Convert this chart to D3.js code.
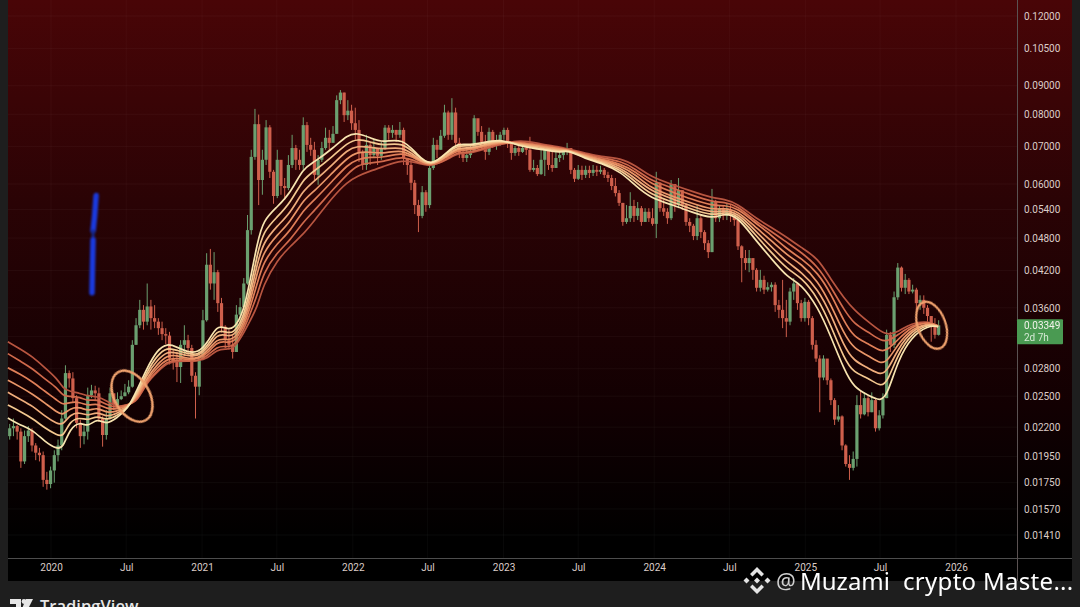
<!DOCTYPE html>
<html>
  <head>
    <meta charset="utf-8">
    <title>ribbon chart</title>
    <style>
      html, body {
        padding: 0;
        margin: 0;
        background-color: #1e1e1e;
      }
      svg {
        display: block;
      }
      .axis text {
        font-family: Roboto, sans-serif;
        font-size: 10px;
        fill: #dccdc8;
      }
    </style>
  </head>
<body>
<svg width="1080" height="607"></svg>

<script src="https://cdnjs.cloudflare.com/ajax/libs/d3/7.8.5/d3.min.js"></script>
<script>

// candles, 8 per line
const firstBar = "2019-09-23";
const barStepDays = 9;
const firstOpen = 0.0212;

const closes = [
  .0219,.0221,.0216,.0191,.0212,.0217,.0204,.0198,
  .0196,.0177,.0174,.0184,.0196,.0204,.0228,.0275,
  .0269,.0248,.0224,.0212,.0216,.0251,.0256,.0253,
  .0228,.0213,.0228,.0253,.0241,.0247,.0250,.0254,
  .0260,.0309,.0335,.0357,.0340,.0362,.0345,.0340,
  .0331,.0323,.0321,.0292,.0288,.0282,.0309,.0315,
  .0305,.0272,.0260,.0292,.0342,.0430,.0398,.0417,
  .0367,.0333,.0315,.0309,.0300,.0350,.0361,.0398,
  .0496,.0671,.0768,.0610,.0663,.0758,.0631,.0571,
  .0663,.0595,.0590,.0649,.0696,.0663,.0649,.0765,
  .0705,.0691,.0623,.0663,.0696,.0726,.0711,.0738,
  .0848,.0875,.0797,.0812,.0771,.0750,.0685,.0649,
  .0705,.0676,.0696,.0674,.0696,.0757,.0741,.0750,
  .0735,.0750,.0668,.0649,.0603,.0550,.0526,.0580,
  .0550,.0641,.0705,.0691,.0732,.0806,.0735,.0806,
  .0711,.0682,.0668,.0676,.0685,.0787,.0744,.0714,
  .0685,.0744,.0711,.0714,.0735,.0750,.0714,.0682,
  .0696,.0685,.0696,.0691,.0636,.0641,.0625,.0663,
  .0696,.0649,.0641,.0668,.0676,.0685,.0696,.0636,
  .0613,.0636,.0623,.0636,.0628,.0636,.0631,.0636,
  .0623,.0615,.0595,.0578,.0555,.0513,.0521,.0548,
  .0526,.0543,.0513,.0535,.0521,.0509,.0603,.0543,
  .0535,.0521,.0600,.0550,.0585,.0550,.0513,.0505,
  .0484,.0521,.0492,.0470,.0453,.0557,.0521,.0543,
  .0526,.0539,.0526,.0517,.0464,.0442,.0433,.0442,
  .0421,.0391,.0404,.0388,.0392,.0396,.0364,.0357,
  .0345,.0340,.0385,.0398,.0367,.0345,.0369,.0345,
  .0309,.0292,.0270,.0292,.0267,.0246,.0227,.0230,
  .0204,.0189,.0186,.0193,.0241,.0232,.0248,.0234,
  .0246,.0219,.0231,.0248,.0322,.0309,.0376,.0425,
  .0391,.0404,.0385,.0388,.0367,.0372,.0360,.0348,
  .0333,.0322,.03349
];

const highs = [
  .0223,.0228,.0222,.0219,.0217,.0221,.0219,.0206,
  .0202,.0199,.0183,.0187,.0200,.0209,.0236,.0284,
  .0278,.0276,.0251,.0227,.0222,.0259,.0262,.0261,
  .0259,.0230,.0236,.0259,.0252,.0254,.0256,.0263,
  .0267,.0315,.0345,.0372,.0364,.0398,.0372,.0364,
  .0345,.0340,.0331,.0326,.0303,.0300,.0315,.0335,
  .0322,.0309,.0276,.0303,.0357,.0451,.0459,.0453,
  .0421,.0375,.0335,.0329,.0322,.0364,.0375,.0407,
  .0528,.0691,.0818,.0799,.0691,.0781,.0765,.0636,
  .0691,.0631,.0615,.0676,.0735,.0705,.0691,.0790,
  .0775,.0726,.0714,.0676,.0714,.0757,.0750,.0762,
  .0865,.0884,.0875,.0848,.0832,.0822,.0781,.0691,
  .0735,.0714,.0720,.0696,.0714,.0765,.0765,.0765,
  .0750,.0775,.0757,.0668,.0663,.0610,.0562,.0595,
  .0585,.0657,.0726,.0720,.0750,.0832,.0812,.0855,
  .0822,.0726,.0696,.0696,.0705,.0797,.0781,.0762,
  .0735,.0757,.0750,.0735,.0744,.0757,.0757,.0714,
  .0702,.0702,.0702,.0702,.0729,.0663,.0649,.0691,
  .0702,.0691,.0685,.0685,.0691,.0696,.0711,.0691,
  .0641,.0649,.0647,.0647,.0647,.0649,.0647,.0647,
  .0641,.0631,.0623,.0615,.0585,.0555,.0550,.0580,
  .0562,.0557,.0548,.0543,.0543,.0543,.0631,.0605,
  .0562,.0543,.0610,.0600,.0615,.0585,.0555,.0521,
  .0509,.0550,.0528,.0496,.0476,.0588,.0562,.0550,
  .0550,.0553,.0550,.0535,.0521,.0466,.0457,.0457,
  .0435,.0424,.0421,.0411,.0400,.0400,.0400,.0372,
  .0404,.0372,.0391,.0407,.0398,.0372,.0375,.0372,
  .0348,.0315,.0296,.0296,.0288,.0269,.0248,.0241,
  .0231,.0205,.0196,.0199,.0251,.0256,.0254,.0251,
  .0254,.0248,.0236,.0253,.0329,.0326,.0385,.0433,
  .0427,.0414,.0407,.0396,.0391,.0379,.0379,.0364,
  .0348,.0345,.0342
];

const lows = [
  .0209,.0212,.0209,.0186,.0189,.0207,.0199,.0192,
  .0191,.0172,.0170,.0171,.0175,.0191,.0200,.0227,
  .0259,.0244,.0219,.0202,.0205,.0209,.0248,.0246,
  .0225,.0203,.0209,.0227,.0236,.0242,.0246,.0250,
  .0252,.0259,.0309,.0331,.0329,.0335,.0329,.0331,
  .0322,.0315,.0310,.0285,.0279,.0265,.0264,.0295,
  .0296,.0265,.0228,.0251,.0290,.0340,.0388,.0372,
  .0354,.0325,.0305,.0303,.0292,.0300,.0329,.0357,
  .0396,.0487,.0663,.0550,.0574,.0649,.0615,.0553,
  .0566,.0574,.0562,.0585,.0641,.0636,.0636,.0636,
  .0685,.0674,.0610,.0598,.0657,.0691,.0691,.0720,
  .0738,.0834,.0775,.0781,.0750,.0720,.0657,.0636,
  .0636,.0649,.0668,.0649,.0663,.0691,.0720,.0726,
  .0714,.0726,.0649,.0623,.0585,.0530,.0492,.0521,
  .0535,.0543,.0636,.0668,.0691,.0726,.0720,.0720,
  .0696,.0668,.0657,.0657,.0668,.0691,.0732,.0691,
  .0663,.0676,.0696,.0691,.0702,.0720,.0696,.0663,
  .0674,.0674,.0682,.0676,.0631,.0631,.0620,.0623,
  .0620,.0636,.0631,.0649,.0657,.0663,.0676,.0625,
  .0605,.0610,.0610,.0615,.0615,.0620,.0620,.0625,
  .0615,.0605,.0585,.0570,.0548,.0505,.0509,.0513,
  .0513,.0517,.0505,.0521,.0513,.0505,.0480,.0535,
  .0526,.0509,.0517,.0535,.0543,.0539,.0505,.0492,
  .0476,.0476,.0480,.0457,.0442,.0453,.0513,.0513,
  .0517,.0517,.0513,.0505,.0457,.0400,.0421,.0417,
  .0404,.0385,.0385,.0381,.0385,.0385,.0354,.0345,
  .0331,.0319,.0335,.0372,.0357,.0340,.0340,.0335,
  .0303,.0288,.0234,.0267,.0262,.0241,.0222,.0225,
  .0200,.0187,.0177,.0184,.0187,.0228,.0231,.0230,
  .0234,.0216,.0217,.0228,.0248,.0300,.0305,.0372,
  .0385,.0381,.0381,.0382,.0357,.0357,.0351,.0340,
  .0313,.0317,.0321
];

// ribbon of 7 moving averages, read at these dates (decimal years), 10 per line
const ribbonYears = [
  2019.714,2019.794,2019.880,2019.960,2020.040,2020.080,2020.126,2020.193,2020.246,2020.305,
  2020.372,2020.438,2020.505,2020.571,2020.637,2020.704,2020.770,2020.837,2020.903,2020.976,
  2021.036,2021.102,2021.155,2021.209,2021.275,2021.321,2021.368,2021.408,2021.501,2021.587,
  2021.673,2021.740,2021.873,2021.965,2022.032,2022.118,2022.198,2022.331,2022.430,2022.517,
  2022.629,2022.696,2022.782,2022.981,2023.114,2023.247,2023.380,2023.426,2023.546,2023.645,
  2023.778,2023.878,2023.977,2024.124,2024.243,2024.389,2024.462,2024.555,2024.661,2024.774,
  2024.887,2024.973,2025.086,2025.173,2025.259,2025.325,2025.418,2025.505,2025.551,2025.618,
  2025.704,2025.817,2025.883
];

const ribbon1 = [
  .02285,.0222,.02175,.0207,.0201,.0202,.0219,.0225,.0220,.02285,
  .0222,.0229,.02362,.02565,.0281,.03025,.0311,.0306,.0300,.0299,
  .0311,.03354,.0331,.03286,.0352,.04039,.04705,.05173,.0546,.0578,
  .0641,.0655,.0696,.0735,.0741,.0726,.0711,.0726,.0676,.0644,
  .0685,.0711,.0702,.0726,.0699,.0693,.0682,.0691,.0665,.0655,
  .0631,.0595,.0566,.0550,.0535,.0519,.0532,.0524,.0480,.0442,
  .0407,.0398,.0361,.0319,.0279,.0259,.0251,.0244,.0254,.0290,
  .0319,.0335,.0333
];
const ribbon2 = [
  .0241,.0235,.0228,.0219,.0213,.0211,.0226,.0229,.0226,.0231,
  .0226,.0231,.0237,.0253,.0277,.0296,.0306,.0302,.0298,.0296,
  .0307,.0329,.0326,.0323,.0345,.0389,.0449,.0494,.0524,.0555,
  .0613,.0631,.0674,.0711,.0723,.0714,.0702,.0714,.0674,.0644,
  .0682,.0705,.0699,.0723,.0702,.0696,.0685,.0691,.0668,.0657,
  .0636,.0605,.0574,.0557,.0541,.0526,.0535,.0528,.0490,.0453,
  .0421,.0409,.0375,.0334,.0292,.0275,.0270,.0259,.0267,.0298,
  .0323,.0337,.0333
];
const ribbon3 = [
  .0254,.0247,.0240,.0230,.0223,.0222,.0232,.0234,.0230,.0235,
  .0229,.0233,.0238,.0251,.0274,.0290,.0301,.0299,.0295,.0295,
  .0304,.0323,.0322,.0319,.0340,.0379,.0432,.0472,.0505,.0532,
  .0585,.0605,.0652,.0691,.0702,.0699,.0691,.0702,.0668,.0644,
  .0676,.0699,.0693,.0720,.0705,.0699,.0688,.0691,.0671,.0660,
  .0641,.0613,.0583,.0564,.0548,.0532,.0539,.0532,.0498,.0464,
  .0433,.0418,.0389,.0350,.0307,.0289,.0281,.0272,.0279,.0304,
  .0327,.0338,.0333
];
const ribbon4 = [
  .0267,.0260,.0252,.0243,.0234,.0231,.0238,.0239,.0235,.0239,
  .0233,.0235,.0239,.0249,.0270,.0285,.0296,.0296,.0292,.0292,
  .0301,.0317,.0316,.0315,.0335,.0370,.0416,.0453,.0487,.0513,
  .0562,.0580,.0631,.0668,.0685,.0685,.0679,.0693,.0665,.0644,
  .0674,.0696,.0691,.0717,.0708,.0702,.0691,.0691,.0674,.0663,
  .0647,.0623,.0590,.0570,.0555,.0539,.0543,.0537,.0505,.0476,
  .0446,.0432,.0402,.0364,.0323,.0304,.0296,.0285,.0290,.0310,
  .0330,.0338,.0334
];
const ribbon5 = [
  .0281,.0274,.0265,.0255,.0246,.0241,.0244,.0244,.0240,.0243,
  .0237,.0237,.0240,.0247,.0268,.0281,.0292,.0292,.0291,.0291,
  .0298,.0313,.0313,.0311,.0331,.0361,.0398,.0435,.0470,.0494,
  .0539,.0559,.0610,.0649,.0665,.0671,.0668,.0685,.0663,.0644,
  .0671,.0691,.0688,.0714,.0711,.0702,.0693,.0691,.0676,.0665,
  .0652,.0631,.0600,.0580,.0564,.0548,.0550,.0543,.0513,.0487,
  .0457,.0442,.0416,.0381,.0340,.0319,.0311,.0300,.0303,.0316,
  .0333,.0340,.0334
];
const ribbon6 = [
  .0298,.0289,.0280,.0268,.0259,.0250,.0250,.0249,.0245,.0247,
  .0241,.0238,.0241,.0245,.0266,.0277,.0289,.0290,.0289,.0289,
  .0295,.0307,.0307,.0306,.0327,.0352,.0379,.0416,.0453,.0476,
  .0513,.0535,.0588,.0625,.0649,.0655,.0657,.0674,.0657,.0644,
  .0665,.0685,.0682,.0711,.0714,.0705,.0696,.0691,.0679,.0668,
  .0660,.0638,.0608,.0590,.0574,.0557,.0557,.0548,.0517,.0494,
  .0470,.0453,.0427,.0392,.0357,.0337,.0326,.0314,.0314,.0322,
  .0335,.0340,.0334
];
const ribbon7 = [
  .0313,.0304,.0294,.0281,.0269,.0258,.0255,.0253,.0250,.0250,
  .0245,.0239,.0241,.0244,.0265,.0276,.0287,.0289,.0289,.0289,
  .0292,.0303,.0304,.0303,.0323,.0342,.0361,.0396,.0439,.0464,
  .0488,.0513,.0571,.0605,.0620,.0633,.0644,.0663,.0655,.0644,
  .0663,.0682,.0679,.0708,.0720,.0708,.0699,.0693,.0682,.0671,
  .0668,.0647,.0618,.0598,.0583,.0566,.0564,.0553,.0524,.0502,
  .0480,.0462,.0442,.0404,.0375,.0357,.0340,.0326,.0322,.0326,
  .0338,.0341,.0334
];
const ribbons = [ribbon7, ribbon6, ribbon5, ribbon4, ribbon3, ribbon2, ribbon1];
const ribbonColors = ["#b85540", "#d06a4c", "#e07f58", "#ea9668", "#f0ad7c", "#f4c890", "#f8e4b0"];

// axis labels
const priceTicks = [.12, .105, .09, .08, .07, .06, .054, .048, .042, .036, .028, .025, .022, .0195, .0175, .0157, .0141];
const timeTicks = ["2020-01-01", "2020-07-01", "2021-01-01", "2021-07-01", "2022-01-01", "2022-07-01", "2023-01-01", "2023-07-01", "2024-01-01", "2024-07-01", "2025-01-01", "2025-07-01", "2026-01-01"];
const timeLabels = ["2020", "Jul", "2021", "Jul", "2022", "Jul", "2023", "Jul", "2024", "Jul", "2025", "Jul", "2026"];

const lastPrice = 0.03349;
const lastCountdown = "2d 7h";

// hand drawn marks on the chart
const circleYears = [2020.537, 2025.84];
const circlePrices = [0.0250, 0.0335];
const scribbleUpper = [[2020.299, .0572], [2020.289, .0525], [2020.279, .0495]];
const scribbleJoin = [[2020.279, .0495], [2020.279, .0476]];
const scribbleLower = [[2020.279, .0476], [2020.275, .0425], [2020.272, .0383]];

const svg = d3.select("svg");

const xScale = d3.scaleUtc()
                .domain([new Date("2020-01-01"), new Date("2026-01-01")])
                .range([51, 956]);

const yScale = d3.scaleLog()
                .domain([.12, .0141])
                .range([16, 535]);

const yearDate = yr => new Date(Date.UTC(2020, 0, 1) + (yr - 2020) * 365.25 * 864e5);

// background
const grad = svg.append("defs").append("linearGradient")
                .attr("id", "bg")
                .attr("x1", 0).attr("y1", 0)
                .attr("x2", 0).attr("y2", 1);
grad.append("stop").attr("offset", "0%").attr("stop-color", "#490507");
grad.append("stop").attr("offset", "35%").attr("stop-color", "#2a0305");
grad.append("stop").attr("offset", "70%").attr("stop-color", "#120002");
grad.append("stop").attr("offset", "93%").attr("stop-color", "#000000");

svg.append("rect")
   .attr("width", 1080).attr("height", 607)
   .attr("fill", "#1e1e1e");
svg.append("rect")
   .attr("x", 8).attr("y", 0)
   .attr("width", 1064).attr("height", 581)
   .attr("fill", "url(#bg)");

// grid
svg.append("g")
   .selectAll("line")
   .data(priceTicks.concat([.032]))
   .enter()
   .append("line")
   .attr("x1", 8).attr("x2", 1017)
   .attr("y1", d => yScale(d)).attr("y2", d => yScale(d))
   .style("stroke", "rgba(255,255,255,0.04)");

svg.append("g")
   .selectAll("line")
   .data(timeTicks)
   .enter()
   .append("line")
   .attr("y1", 0).attr("y2", 558)
   .attr("x1", d => xScale(new Date(d))).attr("x2", d => xScale(new Date(d)))
   .style("stroke", "rgba(255,255,255,0.03)");

// candles
const bars = closes.map((c, i) => ({
  date: d3.utcDay.offset(new Date(firstBar), barStepDays * i),
  open: i == 0 ? firstOpen : closes[i - 1],
  close: c,
  high: highs[i],
  low: lows[i]
}));

const candles = svg.append("g")
                   .style("filter", "blur(0.7px)")
                   .selectAll("g")
                   .data(bars)
                   .enter()
                   .append("g")
                   .style("fill", d => d.close >= d.open ? "#6ba070" : "#cf5f4c")
                   .style("stroke", d => d.close >= d.open ? "#6ba070" : "#cf5f4c");

candles.append("line")
       .attr("x1", d => xScale(d.date)).attr("x2", d => xScale(d.date))
       .attr("y1", d => yScale(d.high)).attr("y2", d => yScale(d.low))
       .style("stroke-width", "1px");

candles.append("rect")
       .attr("x", d => xScale(d.date) - 1.6)
       .attr("width", 3.2)
       .attr("y", d => yScale(Math.max(d.open, d.close)))
       .attr("height", d => Math.max(1, yScale(Math.min(d.open, d.close)) - yScale(Math.max(d.open, d.close))))
       .style("stroke", "none");

// ribbon
const ribbonLine = d3.line()
                     .x((d, i) => xScale(yearDate(ribbonYears[i])))
                     .y(d => yScale(d))
                     .curve(d3.curveBasis);

svg.append("g")
   .style("filter", "blur(0.5px)")
   .selectAll("path")
   .data(ribbons)
   .enter()
   .append("path")
   .attr("d", ribbonLine)
   .style("fill", "none")
   .style("stroke", (d, i) => ribbonColors[i])
   .style("stroke-width", "1.7px");

// orange circles
const circleSize = [[27.7, 17.5, 60], [24.5, 13.9, 70]];
svg.append("g")
   .style("filter", "blur(0.5px)")
   .selectAll("ellipse")
   .data(circleYears)
   .enter()
   .append("ellipse")
   .attr("rx", (d, i) => circleSize[i][0])
   .attr("ry", (d, i) => circleSize[i][1])
   .attr("transform", (d, i) => "translate(" + xScale(yearDate(d)) + "," + yScale(circlePrices[i]) + ") rotate(" + circleSize[i][2] + ")")
   .style("fill", "none")
   .style("stroke", "#f0a26e")
   .style("stroke-width", "2.4px");

// blue scribble
const scribble = d3.line()
                   .x(d => xScale(yearDate(d[0])))
                   .y(d => yScale(d[1]));

svg.append("g")
   .style("filter", "blur(1.2px)")
   .selectAll("path")
   .data([scribbleUpper, scribbleJoin, scribbleLower])
   .enter()
   .append("path")
   .attr("d", scribble)
   .style("fill", "none")
   .style("stroke", (d, i) => i == 1 ? "#14288c" : "#1a3ade")
   .style("stroke-width", (d, i) => i == 1 ? "3px" : "5.5px")
   .style("stroke-linecap", "round");

// axes
const yAxis = d3.axisRight(yScale)
                .tickValues(priceTicks)
                .tickFormat(d3.format(".5f"))
                .tickSize(0)
                .tickPadding(7);

const xAxis = d3.axisBottom(xScale)
                .tickValues(timeTicks.map(d => new Date(d)))
                .tickFormat((d, i) => timeLabels[i])
                .tickSize(0)
                .tickPadding(6);

svg.append("rect").attr("x", 8).attr("y", 558).attr("width", 1064).attr("height", 23).attr("fill", "#000");

svg.append("g").attr("class", "axis")
   .attr("transform", "translate(1017,0)")
   .call(yAxis)
   .call(g => g.select(".domain").remove());

svg.append("g").attr("class", "axis")
   .attr("transform", "translate(0,558)")
   .call(xAxis)
   .call(g => g.select(".domain").remove());

svg.append("line").attr("x1", 8).attr("x2", 1072).attr("y1", 558.5).attr("y2", 558.5).style("stroke", "#4d4d4d");
svg.append("line").attr("x1", 1017.5).attr("x2", 1017.5).attr("y1", 0).attr("y2", 581).style("stroke", "#5a5252");

// last price tag
const tag = svg.append("g").attr("transform", "translate(1017," + yScale(lastPrice) + ")");
tag.append("rect")
   .attr("y", -6).attr("width", 46).attr("height", 25)
   .attr("rx", 1)
   .attr("fill", "#4a9a52");
tag.append("text")
   .text(d3.format(".5f")(lastPrice))
   .attr("x", 7).attr("y", 4)
   .style("font", "10px Roboto, sans-serif")
   .style("fill", "#f2f2ea");
tag.append("text")
   .text(lastCountdown)
   .attr("x", 7).attr("y", 15.5)
   .style("font", "10px Roboto, sans-serif")
   .style("fill", "#d5ead5");

// tradingview logo, cut by the bottom edge
const logo = svg.append("g").style("fill", "#e6e6e6");
logo.append("path").attr("d", "M10 599h11v12h-5v-7h-6zM26 599l-5 12h6l6-12z");
logo.append("circle").attr("cx", 24).attr("cy", 601.5).attr("r", 2.4);
logo.append("text")
    .text("TradingView")
    .attr("x", 40).attr("y", 612)
    .style("font", "600 16.5px 'Open Sans', sans-serif");

// watermark
const mark = svg.append("g").attr("transform", "translate(757,580.5)");
mark.selectAll("path")
    .data(["M0 -13.5L7 -6.5L4.5 -4L0 -8.5L-4.5 -4L-7 -6.5Z",
           "M0 13.5L7 6.5L4.5 4L0 8.5L-4.5 4L-7 6.5Z",
           "M0 -3L3 0L0 3L-3 0Z",
           "M-10.5 -3L-7.5 0L-10.5 3L-13.5 0Z",
           "M10.5 -3L13.5 0L10.5 3L7.5 0Z"])
    .enter()
    .append("path")
    .attr("d", d => d)
    .style("fill", "#e4e4e4");

svg.append("text")
   .text("@")
   .attr("x", 776).attr("y", 589)
   .style("font", "22px 'Noto Sans', sans-serif")
   .style("fill", "#d0d0d0");

svg.append("text")
   .text("Muzami")
   .attr("x", 800).attr("y", 590)
   .style("font", "24px 'Noto Sans', sans-serif")
   .style("fill", "#ffffff");

svg.append("text")
   .text("crypto Maste...")
   .attr("x", 903).attr("y", 590)
   .style("font", "24px 'Noto Sans', sans-serif")
   .style("letter-spacing", "0.3px")
   .style("fill", "#ffffff");

</script>

</body>
</html>
